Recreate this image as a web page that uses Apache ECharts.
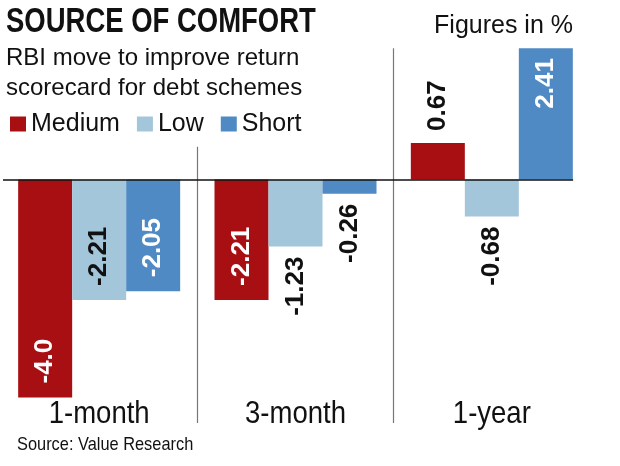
<!DOCTYPE html>
<html>
<head>
<meta charset="utf-8">
<script src="https://cdn.jsdelivr.net/npm/echarts@6/dist/echarts.min.js"></script>
<style>
  html, body { margin: 0; padding: 0; background: #fff; }
  #chart { width: 620px; height: 466px; }
</style>
</head>
<body>
<div id="chart"></div>
<script>
// ---- data ----
var categories = ['1-month', '3-month', '1-year'];
var seriesNames = ['Medium', 'Low', 'Short'];
var medium = [-4.0, -2.21, 0.67];
var low = [-2.21, -1.23, -0.68];
var short = [-2.05, -0.26, 2.41];
// separators between groups: category boundary and top value
var separatorX = [1, 2];
var separatorTop = [0.6, 2.41];

var colors = ['#a80f13', '#a4c6db', '#4f8ac4'];
var insideColors = ['#ffffff', '#111111', '#ffffff'];

var SANS = '"Liberation Sans", Arial, sans-serif';

var yMax = 2.413, yMin = -4.468;

function fmt(v) {
  return Number.isInteger(v) ? v.toFixed(1) : String(v);
}

function buildData(values, idx) {
  return values.map(function (v) {
    var inside = Math.abs(v) >= 2;
    var pos, align, dist, color;
    if (v < 0) {
      if (inside) { pos = 'insideBottom'; align = 'left'; dist = 14; color = insideColors[idx]; }
      else { pos = 'bottom'; align = 'right'; dist = 10; color = '#111111'; }
    } else {
      if (inside) { pos = 'insideTop'; align = 'right'; dist = 10; color = insideColors[idx]; }
      else { pos = 'top'; align = 'left'; dist = 12; color = '#111111'; }
    }
    return {
      value: v,
      label: {
        show: true,
        position: pos,
        distance: dist,
        rotate: 90,
        align: align,
        verticalAlign: 'middle',
        color: color,
        fontFamily: SANS,
        fontWeight: 'bold',
        fontSize: 26,
        formatter: function (p) { return fmt(p.value); }
      }
    };
  });
}

var allSeries = [medium, low, short].map(function (vals, i) {
  return {
    name: seriesNames[i],
    type: 'bar',
    xAxisIndex: 0,
    yAxisIndex: 0,
    barWidth: 54,
    barGap: '0%',
    itemStyle: { color: colors[i] },
    data: buildData(vals, i),
    clip: false,
    z: 3
  };
});

var sepLines = separatorX.map(function (x, i) {
  return [{ coord: [x, separatorTop[i]] }, { coord: [x, yMin] }];
});
sepLines.push([
  { coord: [0.01, 0], lineStyle: { color: '#111111', width: 1.6 } },
  { coord: [2.914, 0] }
]);

allSeries.push({
  type: 'scatter',
  xAxisIndex: 1,
  yAxisIndex: 0,
  data: [],
  silent: true,
  markLine: {
    silent: true,
    symbol: ['none', 'none'],
    label: { show: false },
    lineStyle: { color: '#777777', width: 1.2, type: 'solid' },
    data: sepLines
  },
  z: 5
});

function condensedText(text, x, y, size, weight, scaleX, align) {
  return {
    type: 'text',
    x: x, y: y,
    scaleX: scaleX, scaleY: 1,
    silent: true,
    style: {
      text: text,
      fontFamily: SANS,
      fontSize: size,
      fontWeight: weight,
      fill: '#111111',
      align: align || 'left',
      verticalAlign: 'middle'
    },
    z: 10
  };
}

var chart = echarts.init(document.getElementById('chart'), null, { renderer: 'canvas' });
chart.setOption({
  animation: false,
  backgroundColor: '#ffffff',
  title: [
    {
      text: 'RBI move to improve return\nscorecard for debt schemes',
      left: 6, top: 43, padding: 0,
      textStyle: { fontFamily: SANS, fontWeight: 'normal', fontSize: 24, lineHeight: 30, color: '#111111' }
    },
    {
      text: 'Figures in %',
      right: 47, top: 13.5, padding: 0,
      textStyle: { fontFamily: SANS, fontWeight: 'normal', fontSize: 25, lineHeight: 25, color: '#111111' }
    }
  ],
  legend: {
    data: seriesNames,
    left: 10, top: 111, padding: 0,
    icon: 'rect',
    itemWidth: 16, itemHeight: 15,
    itemGap: 17,
    textStyle: { fontFamily: SANS, fontSize: 25, lineHeight: 26, color: '#111111' }
  },
  grid: { left: 1, right: 30, top: 48, bottom: 43, containLabel: false },
  xAxis: [
    {
      type: 'category',
      data: categories,
      axisLine: { show: false, onZero: false },
      axisTick: { show: false },
      splitLine: { show: false },
      axisLabel: { show: false }
    },
    {
      type: 'value',
      min: 0, max: 3,
      show: false
    }
  ],
  yAxis: {
    type: 'value',
    min: yMin, max: yMax,
    show: false,
    splitLine: { show: false }
  },
  series: allSeries
});

// condensed texts (title, category labels, source) placed via the chart's own scales
var graphics = [
  condensedText('SOURCE OF COMFORT', 6, 22.5, 35, 'bold', 0.785, 'left'),
  condensedText('Source: Value Research', 17, 444.5, 18.5, 'normal', 0.885, 'left')
];
categories.forEach(function (c) {
  var px = chart.convertToPixel({ xAxisIndex: 0 }, c);
  graphics.push(condensedText(c, px, 414.5, 32, 'normal', 0.86, 'center'));
});
chart.setOption({ graphic: graphics });
</script>
</body>
</html>
